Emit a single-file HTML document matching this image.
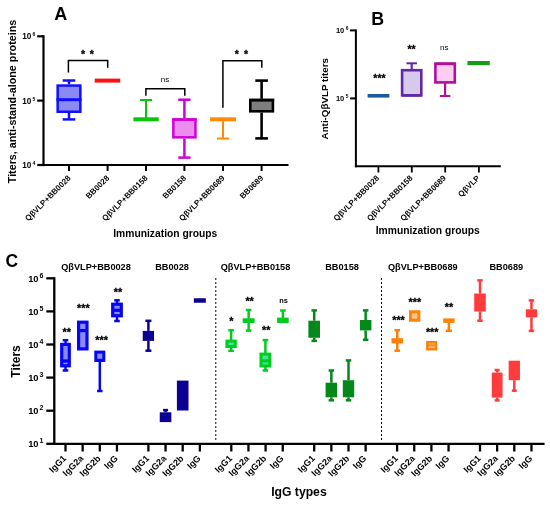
<!DOCTYPE html>
<html><head><meta charset="utf-8"><style>
html,body{margin:0;padding:0;background:#fff;}
svg{display:block;font-family:"Liberation Sans", sans-serif;will-change:transform;}
</style></head><body>
<svg width="550" height="506" viewBox="0 0 550 506">
<rect width="550" height="506" fill="#fff"/>
<text x="60.8" y="20.2" font-size="18" text-anchor="middle" font-weight="bold" fill="#000" >A</text>
<line x1="43.5" y1="35.2" x2="43.5" y2="166.1" stroke="#000" stroke-width="2.2" />
<line x1="42.4" y1="165" x2="288.5" y2="165" stroke="#000" stroke-width="2.2" />
<line x1="37.2" y1="36.3" x2="43.5" y2="36.3" stroke="#000" stroke-width="2.2" />
<text x="31.3" y="39.3" font-size="8.2" text-anchor="end" font-weight="bold">10</text>
<text x="32.5" y="36.4" font-size="5.0" text-anchor="start" font-weight="bold">6</text>
<line x1="37.2" y1="100.6" x2="43.5" y2="100.6" stroke="#000" stroke-width="2.2" />
<text x="31.3" y="103.6" font-size="8.2" text-anchor="end" font-weight="bold">10</text>
<text x="32.5" y="100.7" font-size="5.0" text-anchor="start" font-weight="bold">5</text>
<line x1="37.2" y1="165" x2="43.5" y2="165" stroke="#000" stroke-width="2.2" />
<text x="31.3" y="168.0" font-size="8.2" text-anchor="end" font-weight="bold">10</text>
<text x="32.5" y="165.1" font-size="5.0" text-anchor="start" font-weight="bold">4</text>
<line x1="69" y1="165" x2="69" y2="171" stroke="#000" stroke-width="2" />
<line x1="107.6" y1="165" x2="107.6" y2="171" stroke="#000" stroke-width="2" />
<line x1="146" y1="165" x2="146" y2="171" stroke="#000" stroke-width="2" />
<line x1="184.4" y1="165" x2="184.4" y2="171" stroke="#000" stroke-width="2" />
<line x1="223" y1="165" x2="223" y2="171" stroke="#000" stroke-width="2" />
<line x1="261.6" y1="165" x2="261.6" y2="171" stroke="#000" stroke-width="2" />
<text transform="translate(71.2,178.6) rotate(-45)" font-size="8" text-anchor="end" font-weight="bold">QβVLP+BB0028</text>
<text transform="translate(109.8,178.6) rotate(-45)" font-size="8" text-anchor="end" font-weight="bold">BB0028</text>
<text transform="translate(148.2,178.6) rotate(-45)" font-size="8" text-anchor="end" font-weight="bold">QβVLP+BB0158</text>
<text transform="translate(186.6,178.6) rotate(-45)" font-size="8" text-anchor="end" font-weight="bold">BB0158</text>
<text transform="translate(225.2,178.6) rotate(-45)" font-size="8" text-anchor="end" font-weight="bold">QβVLP+BB0689</text>
<text transform="translate(263.8,178.6) rotate(-45)" font-size="8" text-anchor="end" font-weight="bold">BB0689</text>
<text x="165.3" y="237" font-size="10.3" text-anchor="middle" font-weight="bold" fill="#000" >Immunization groups</text>
<text transform="translate(15.7,101.5) rotate(-90)" font-size="10.75" text-anchor="middle" font-weight="bold">Titers, anti-stand-alone proteins</text>
<line x1="69" y1="80.5" x2="69" y2="84.3" stroke="#1010ff" stroke-width="2.5" />
<line x1="62.7" y1="80.5" x2="75.3" y2="80.5" stroke="#1010ff" stroke-width="2.5" />
<line x1="69" y1="113" x2="69" y2="119.4" stroke="#1010ff" stroke-width="2.5" />
<line x1="62.7" y1="119.4" x2="75.3" y2="119.4" stroke="#1010ff" stroke-width="2.5" />
<rect x="57.65" y="85.55" width="22.7" height="26.2" fill="#8a8af2" stroke="#1010ff" stroke-width="2.5"/>
<line x1="56.4" y1="99.7" x2="81.6" y2="99.7" stroke="#1010ff" stroke-width="3" />
<line x1="94.7" y1="80.6" x2="120.2" y2="80.6" stroke="#ff1010" stroke-width="4" />
<line x1="146" y1="100" x2="146" y2="119.3" stroke="#0ac40a" stroke-width="2" />
<line x1="140" y1="100" x2="152" y2="100" stroke="#0ac40a" stroke-width="2" />
<line x1="133.4" y1="119.3" x2="158.7" y2="119.3" stroke="#0ac40a" stroke-width="4" />
<line x1="184.4" y1="99.7" x2="184.4" y2="118.2" stroke="#d000d8" stroke-width="2.5" />
<line x1="178.25" y1="99.7" x2="190.55" y2="99.7" stroke="#d000d8" stroke-width="2.5" />
<line x1="184.4" y1="138.6" x2="184.4" y2="157.6" stroke="#d000d8" stroke-width="2.5" />
<line x1="178.25" y1="157.6" x2="190.55" y2="157.6" stroke="#d000d8" stroke-width="2.5" />
<rect x="173.35" y="119.45" width="22.1" height="17.9" fill="#ec8cee" stroke="#d000d8" stroke-width="2.5"/>
<line x1="172.1" y1="119.6" x2="196.7" y2="119.6" stroke="#d000d8" stroke-width="2.5" />
<line x1="223" y1="119.3" x2="223" y2="138.5" stroke="#ff8c00" stroke-width="2" />
<line x1="217" y1="138.5" x2="229.2" y2="138.5" stroke="#ff8c00" stroke-width="2" />
<line x1="210" y1="119.3" x2="236" y2="119.3" stroke="#ff8c00" stroke-width="4" />
<line x1="261.6" y1="80.6" x2="261.6" y2="98.8" stroke="#000" stroke-width="2.6" />
<line x1="255.3" y1="80.6" x2="267.9" y2="80.6" stroke="#000" stroke-width="2.6" />
<line x1="261.6" y1="112.6" x2="261.6" y2="138.4" stroke="#000" stroke-width="2.6" />
<line x1="255.3" y1="138.4" x2="267.9" y2="138.4" stroke="#000" stroke-width="2.6" />
<rect x="250.3" y="100.1" width="22.6" height="11.2" fill="#7e7e7e" stroke="#000" stroke-width="2.6"/>
<line x1="249" y1="100" x2="274.2" y2="100" stroke="#000" stroke-width="2.6" />
<polyline points="68.4,72.4 68.4,60.5 107.7,60.5 107.7,67.8" fill="none" stroke="#000" stroke-width="1.5"/>
<polyline points="145.9,95.7 145.9,88.8 184.8,88.8 184.8,95.7" fill="none" stroke="#000" stroke-width="1.5"/>
<polyline points="222.9,107.8 222.9,60.7 261.8,60.7 261.8,67.8" fill="none" stroke="#000" stroke-width="1.5"/>
<text x="83.1" y="57.65" font-size="10.5" text-anchor="middle" font-weight="bold" stroke="#000" stroke-width="0.3">*</text>
<text x="91.7" y="57.65" font-size="10.5" text-anchor="middle" font-weight="bold" stroke="#000" stroke-width="0.3">*</text>
<text x="236.7" y="58.05" font-size="10.5" text-anchor="middle" font-weight="bold" stroke="#000" stroke-width="0.3">*</text>
<text x="246.0" y="58.05" font-size="10.5" text-anchor="middle" font-weight="bold" stroke="#000" stroke-width="0.3">*</text>
<text x="165.1" y="82.18" font-size="8" text-anchor="middle" font-weight="normal">ns</text>
<text x="377.6" y="24.6" font-size="17.8" text-anchor="middle" font-weight="bold" fill="#000" >B</text>
<line x1="355.9" y1="29.4" x2="355.9" y2="167.3" stroke="#000" stroke-width="2" />
<line x1="354.9" y1="166.3" x2="500.8" y2="166.3" stroke="#000" stroke-width="2" />
<line x1="350" y1="30.4" x2="355.9" y2="30.4" stroke="#000" stroke-width="2" />
<text x="344.3" y="33.2" font-size="7.5" text-anchor="end" font-weight="bold">10</text>
<text x="345.8" y="30.2" font-size="4.8" text-anchor="start" font-weight="bold">6</text>
<line x1="350" y1="98.4" x2="355.9" y2="98.4" stroke="#000" stroke-width="2" />
<text x="344.3" y="101.2" font-size="7.5" text-anchor="end" font-weight="bold">10</text>
<text x="345.8" y="98.2" font-size="4.8" text-anchor="start" font-weight="bold">5</text>
<line x1="378.4" y1="166.3" x2="378.4" y2="172.5" stroke="#000" stroke-width="1.8" />
<line x1="411.8" y1="166.3" x2="411.8" y2="172.5" stroke="#000" stroke-width="1.8" />
<line x1="445.2" y1="166.3" x2="445.2" y2="172.5" stroke="#000" stroke-width="1.8" />
<line x1="478.9" y1="166.3" x2="478.9" y2="172.5" stroke="#000" stroke-width="1.8" />
<text transform="translate(379.7,178.6) rotate(-45)" font-size="8" text-anchor="end" font-weight="bold">QβVLP+BB0028</text>
<text transform="translate(413.1,178.6) rotate(-45)" font-size="8" text-anchor="end" font-weight="bold">QβVLP+BB0158</text>
<text transform="translate(446.5,178.6) rotate(-45)" font-size="8" text-anchor="end" font-weight="bold">QβVLP+BB0689</text>
<text transform="translate(480.2,178.6) rotate(-45)" font-size="8" text-anchor="end" font-weight="bold">QβVLP</text>
<text x="427.8" y="234" font-size="10.3" text-anchor="middle" font-weight="bold" fill="#000" >Immunization groups</text>
<text transform="translate(328,98.7) rotate(-90)" font-size="9.8" text-anchor="middle" font-weight="bold">Anti-QβVLP titers</text>
<line x1="367.6" y1="95.8" x2="389.4" y2="95.8" stroke="#1a5aa5" stroke-width="3.6" />
<text x="379.5" y="82.05" font-size="10.5" text-anchor="middle" font-weight="bold" stroke="#000" stroke-width="0.3">***</text>
<line x1="411.7" y1="63.3" x2="411.7" y2="69.4" stroke="#6228a4" stroke-width="2.2" />
<line x1="406.45" y1="63.3" x2="416.95" y2="63.3" stroke="#6228a4" stroke-width="2.0" />
<rect x="402.1" y="70.2" width="19.2" height="25.2" fill="#d6c9ec" stroke="#6228a4" stroke-width="2.6"/>
<line x1="402.1" y1="95.3" x2="421.3" y2="95.3" stroke="#6228a4" stroke-width="2.6" />
<text x="411.6" y="52.85" font-size="10.5" text-anchor="middle" font-weight="bold" stroke="#000" stroke-width="0.3">**</text>
<line x1="445.1" y1="83.2" x2="445.1" y2="96.0" stroke="#b01096" stroke-width="2.2" />
<line x1="439.85" y1="96.0" x2="450.35" y2="96.0" stroke="#b01096" stroke-width="2.0" />
<rect x="435.4" y="63.6" width="19.4" height="18.8" fill="#ffccf2" stroke="#b01096" stroke-width="2.6"/>
<line x1="435.4" y1="63.9" x2="454.8" y2="63.9" stroke="#b01096" stroke-width="2.6" />
<text x="444.3" y="49.78" font-size="8" text-anchor="middle" font-weight="normal">ns</text>
<line x1="467.4" y1="63.1" x2="489.8" y2="63.1" stroke="#1a9a1a" stroke-width="4.2" />
<text x="11.8" y="266.5" font-size="17.5" text-anchor="middle" font-weight="bold" fill="#000" >C</text>
<line x1="54.3" y1="277.2" x2="54.3" y2="444.9" stroke="#000" stroke-width="2.3" />
<line x1="53.2" y1="443.8" x2="544.6" y2="443.8" stroke="#000" stroke-width="2.3" />
<line x1="46.3" y1="443.8" x2="54.3" y2="443.8" stroke="#000" stroke-width="2.3" />
<text x="38.6" y="447.0" font-size="9.4" text-anchor="end" font-weight="bold">10</text>
<text x="39.4" y="443.1" font-size="7.0" text-anchor="start" font-weight="bold">1</text>
<line x1="46.3" y1="410.7" x2="54.3" y2="410.7" stroke="#000" stroke-width="2.3" />
<text x="38.6" y="413.9" font-size="9.4" text-anchor="end" font-weight="bold">10</text>
<text x="39.4" y="410.0" font-size="7.0" text-anchor="start" font-weight="bold">2</text>
<line x1="46.3" y1="377.6" x2="54.3" y2="377.6" stroke="#000" stroke-width="2.3" />
<text x="38.6" y="380.8" font-size="9.4" text-anchor="end" font-weight="bold">10</text>
<text x="39.4" y="376.9" font-size="7.0" text-anchor="start" font-weight="bold">3</text>
<line x1="46.3" y1="344.5" x2="54.3" y2="344.5" stroke="#000" stroke-width="2.3" />
<text x="38.6" y="347.7" font-size="9.4" text-anchor="end" font-weight="bold">10</text>
<text x="39.4" y="343.8" font-size="7.0" text-anchor="start" font-weight="bold">4</text>
<line x1="46.3" y1="311.4" x2="54.3" y2="311.4" stroke="#000" stroke-width="2.3" />
<text x="38.6" y="314.6" font-size="9.4" text-anchor="end" font-weight="bold">10</text>
<text x="39.4" y="310.7" font-size="7.0" text-anchor="start" font-weight="bold">5</text>
<line x1="46.3" y1="278.3" x2="54.3" y2="278.3" stroke="#000" stroke-width="2.3" />
<text x="38.6" y="281.5" font-size="9.4" text-anchor="end" font-weight="bold">10</text>
<text x="39.4" y="277.6" font-size="7.0" text-anchor="start" font-weight="bold">6</text>
<text transform="translate(20,361.5) rotate(-90)" font-size="12" text-anchor="middle" font-weight="bold">Titers</text>
<text x="298.9" y="495.5" font-size="12.2" text-anchor="middle" font-weight="bold" fill="#000" >IgG types</text>
<line x1="65.5" y1="443.8" x2="65.5" y2="451.5" stroke="#000" stroke-width="2.3" />
<text transform="translate(66.9,459.0) rotate(-45)" font-size="9" text-anchor="end" font-weight="bold">IgG1</text>
<line x1="82.65" y1="443.8" x2="82.65" y2="451.5" stroke="#000" stroke-width="2.3" />
<text transform="translate(84.05,459.0) rotate(-45)" font-size="9" text-anchor="end" font-weight="bold">IgG2a</text>
<line x1="99.8" y1="443.8" x2="99.8" y2="451.5" stroke="#000" stroke-width="2.3" />
<text transform="translate(101.2,459.0) rotate(-45)" font-size="9" text-anchor="end" font-weight="bold">IgG2b</text>
<line x1="116.95" y1="443.8" x2="116.95" y2="451.5" stroke="#000" stroke-width="2.3" />
<text transform="translate(118.35,459.0) rotate(-45)" font-size="9" text-anchor="end" font-weight="bold">IgG</text>
<line x1="148.4" y1="443.8" x2="148.4" y2="451.5" stroke="#000" stroke-width="2.3" />
<text transform="translate(149.8,459.0) rotate(-45)" font-size="9" text-anchor="end" font-weight="bold">IgG1</text>
<line x1="165.55" y1="443.8" x2="165.55" y2="451.5" stroke="#000" stroke-width="2.3" />
<text transform="translate(166.95,459.0) rotate(-45)" font-size="9" text-anchor="end" font-weight="bold">IgG2a</text>
<line x1="182.7" y1="443.8" x2="182.7" y2="451.5" stroke="#000" stroke-width="2.3" />
<text transform="translate(184.1,459.0) rotate(-45)" font-size="9" text-anchor="end" font-weight="bold">IgG2b</text>
<line x1="199.85" y1="443.8" x2="199.85" y2="451.5" stroke="#000" stroke-width="2.3" />
<text transform="translate(201.25,459.0) rotate(-45)" font-size="9" text-anchor="end" font-weight="bold">IgG</text>
<line x1="231.3" y1="443.8" x2="231.3" y2="451.5" stroke="#000" stroke-width="2.3" />
<text transform="translate(232.7,459.0) rotate(-45)" font-size="9" text-anchor="end" font-weight="bold">IgG1</text>
<line x1="248.45" y1="443.8" x2="248.45" y2="451.5" stroke="#000" stroke-width="2.3" />
<text transform="translate(249.85,459.0) rotate(-45)" font-size="9" text-anchor="end" font-weight="bold">IgG2a</text>
<line x1="265.6" y1="443.8" x2="265.6" y2="451.5" stroke="#000" stroke-width="2.3" />
<text transform="translate(267.0,459.0) rotate(-45)" font-size="9" text-anchor="end" font-weight="bold">IgG2b</text>
<line x1="282.75" y1="443.8" x2="282.75" y2="451.5" stroke="#000" stroke-width="2.3" />
<text transform="translate(284.15,459.0) rotate(-45)" font-size="9" text-anchor="end" font-weight="bold">IgG</text>
<line x1="314.2" y1="443.8" x2="314.2" y2="451.5" stroke="#000" stroke-width="2.3" />
<text transform="translate(315.6,459.0) rotate(-45)" font-size="9" text-anchor="end" font-weight="bold">IgG1</text>
<line x1="331.35" y1="443.8" x2="331.35" y2="451.5" stroke="#000" stroke-width="2.3" />
<text transform="translate(332.75,459.0) rotate(-45)" font-size="9" text-anchor="end" font-weight="bold">IgG2a</text>
<line x1="348.5" y1="443.8" x2="348.5" y2="451.5" stroke="#000" stroke-width="2.3" />
<text transform="translate(349.9,459.0) rotate(-45)" font-size="9" text-anchor="end" font-weight="bold">IgG2b</text>
<line x1="365.65" y1="443.8" x2="365.65" y2="451.5" stroke="#000" stroke-width="2.3" />
<text transform="translate(367.05,459.0) rotate(-45)" font-size="9" text-anchor="end" font-weight="bold">IgG</text>
<line x1="397.1" y1="443.8" x2="397.1" y2="451.5" stroke="#000" stroke-width="2.3" />
<text transform="translate(398.5,459.0) rotate(-45)" font-size="9" text-anchor="end" font-weight="bold">IgG1</text>
<line x1="414.25" y1="443.8" x2="414.25" y2="451.5" stroke="#000" stroke-width="2.3" />
<text transform="translate(415.65,459.0) rotate(-45)" font-size="9" text-anchor="end" font-weight="bold">IgG2a</text>
<line x1="431.4" y1="443.8" x2="431.4" y2="451.5" stroke="#000" stroke-width="2.3" />
<text transform="translate(432.8,459.0) rotate(-45)" font-size="9" text-anchor="end" font-weight="bold">IgG2b</text>
<line x1="448.55" y1="443.8" x2="448.55" y2="451.5" stroke="#000" stroke-width="2.3" />
<text transform="translate(449.95,459.0) rotate(-45)" font-size="9" text-anchor="end" font-weight="bold">IgG</text>
<line x1="480.0" y1="443.8" x2="480.0" y2="451.5" stroke="#000" stroke-width="2.3" />
<text transform="translate(481.4,459.0) rotate(-45)" font-size="9" text-anchor="end" font-weight="bold">IgG1</text>
<line x1="497.15" y1="443.8" x2="497.15" y2="451.5" stroke="#000" stroke-width="2.3" />
<text transform="translate(498.55,459.0) rotate(-45)" font-size="9" text-anchor="end" font-weight="bold">IgG2a</text>
<line x1="514.3" y1="443.8" x2="514.3" y2="451.5" stroke="#000" stroke-width="2.3" />
<text transform="translate(515.7,459.0) rotate(-45)" font-size="9" text-anchor="end" font-weight="bold">IgG2b</text>
<line x1="531.45" y1="443.8" x2="531.45" y2="451.5" stroke="#000" stroke-width="2.3" />
<text transform="translate(532.85,459.0) rotate(-45)" font-size="9" text-anchor="end" font-weight="bold">IgG</text>
<line x1="215.8" y1="278" x2="215.8" y2="442" stroke="#000" stroke-width="1" stroke-dasharray="2,2"/>
<line x1="381.5" y1="278" x2="381.5" y2="442" stroke="#000" stroke-width="1" stroke-dasharray="2,2"/>
<text x="96" y="270.3" font-size="9.2" text-anchor="middle" font-weight="bold" fill="#000" >QβVLP+BB0028</text>
<text x="172" y="270.3" font-size="9.2" text-anchor="middle" font-weight="bold" fill="#000" >BB0028</text>
<text x="255.5" y="270.3" font-size="9.2" text-anchor="middle" font-weight="bold" fill="#000" >QβVLP+BB0158</text>
<text x="342" y="270.3" font-size="9.2" text-anchor="middle" font-weight="bold" fill="#000" >BB0158</text>
<text x="422.8" y="270.3" font-size="9.2" text-anchor="middle" font-weight="bold" fill="#000" >QβVLP+BB0689</text>
<text x="506.3" y="270.3" font-size="9.2" text-anchor="middle" font-weight="bold" fill="#000" >BB0689</text>
<line x1="65.5" y1="340.2" x2="65.5" y2="343.3" stroke="#0606f4" stroke-width="2.5" />
<line x1="62.7" y1="340.2" x2="68.3" y2="340.2" stroke="#0606f4" stroke-width="2.5" />
<line x1="65.5" y1="366.9" x2="65.5" y2="370.5" stroke="#0606f4" stroke-width="2.5" />
<line x1="62.7" y1="370.5" x2="68.3" y2="370.5" stroke="#0606f4" stroke-width="2.5" />
<rect x="61.7" y="344.4" width="7.6" height="21.4" fill="#8a8af8" stroke="#0606f4" stroke-width="3.2"/>
<line x1="61.7" y1="361" x2="69.3" y2="361" stroke="#0606f4" stroke-width="3.2" />
<rect x="78.6" y="322.2" width="8.4" height="26.7" fill="#8a8af8" stroke="#0606f4" stroke-width="3.2"/>
<line x1="78.6" y1="330.6" x2="87.0" y2="330.6" stroke="#0606f4" stroke-width="3.2" />
<line x1="99.8" y1="361.4" x2="99.8" y2="391" stroke="#0606f4" stroke-width="2.5" />
<line x1="97.05" y1="391" x2="102.55" y2="391" stroke="#0606f4" stroke-width="2.5" />
<rect x="95.8" y="352.1" width="8.0" height="8.3" fill="#8a8af8" stroke="#0606f4" stroke-width="3.0"/>
<line x1="95.8" y1="360.4" x2="103.8" y2="360.4" stroke="#0606f4" stroke-width="3.0" />
<line x1="117.0" y1="300.3" x2="117.0" y2="303.1" stroke="#0606f4" stroke-width="2.5" />
<line x1="114.2" y1="300.3" x2="119.8" y2="300.3" stroke="#0606f4" stroke-width="2.5" />
<line x1="117.0" y1="316.9" x2="117.0" y2="321.0" stroke="#0606f4" stroke-width="2.5" />
<line x1="114.2" y1="321.0" x2="119.8" y2="321.0" stroke="#0606f4" stroke-width="2.5" />
<rect x="112.7" y="304.2" width="8.6" height="11.6" fill="#8a8af8" stroke="#0606f4" stroke-width="3.2"/>
<line x1="112.7" y1="310.3" x2="121.3" y2="310.3" stroke="#0606f4" stroke-width="3.2" />
<text x="66.8" y="335.60" font-size="10.8" text-anchor="middle" font-weight="bold" stroke="#000" stroke-width="0.3">**</text>
<text x="83.4" y="312.20" font-size="10.8" text-anchor="middle" font-weight="bold" stroke="#000" stroke-width="0.3">***</text>
<text x="101.6" y="343.90" font-size="10.8" text-anchor="middle" font-weight="bold" stroke="#000" stroke-width="0.3">***</text>
<text x="118" y="295.60" font-size="10.8" text-anchor="middle" font-weight="bold" stroke="#000" stroke-width="0.3">**</text>
<line x1="148.4" y1="320.8" x2="148.4" y2="330.9" stroke="#0c0094" stroke-width="2.5" />
<line x1="145.4" y1="320.8" x2="151.4" y2="320.8" stroke="#0c0094" stroke-width="2.5" />
<line x1="148.4" y1="340.9" x2="148.4" y2="350.7" stroke="#0c0094" stroke-width="2.5" />
<line x1="145.4" y1="350.7" x2="151.4" y2="350.7" stroke="#0c0094" stroke-width="2.5" />
<rect x="144.0" y="332.15" width="8.8" height="7.5" fill="#0c0094" stroke="#0c0094" stroke-width="2.5"/>
<line x1="165.55" y1="410.1" x2="165.55" y2="412.3" stroke="#0c0094" stroke-width="2.5" />
<line x1="163.05" y1="410.1" x2="168.05" y2="410.1" stroke="#0c0094" stroke-width="2.5" />
<rect x="161.0" y="413.55" width="9.1" height="7.3" fill="#0c0094" stroke="#0c0094" stroke-width="2.5"/>
<rect x="178.15" y="381.85" width="9.1" height="27.4" fill="#0c0094" stroke="#0c0094" stroke-width="2.5"/>
<line x1="193.85" y1="300.5" x2="205.85" y2="300.5" stroke="#0c0094" stroke-width="4.5" />
<line x1="231.1" y1="330.2" x2="231.1" y2="340.1" stroke="#02cc1e" stroke-width="2.5" />
<line x1="228.3" y1="330.2" x2="233.9" y2="330.2" stroke="#02cc1e" stroke-width="2.5" />
<line x1="231.1" y1="347.5" x2="231.1" y2="350.8" stroke="#02cc1e" stroke-width="2.5" />
<line x1="228.3" y1="350.8" x2="233.9" y2="350.8" stroke="#02cc1e" stroke-width="2.5" />
<rect x="226.9" y="341.1" width="8.4" height="5.4" fill="#44e49c" stroke="#02cc1e" stroke-width="3.0"/>
<line x1="248.65" y1="310.0" x2="248.65" y2="318.8" stroke="#02cc1e" stroke-width="2.5" />
<line x1="245.85" y1="310.0" x2="251.45" y2="310.0" stroke="#02cc1e" stroke-width="2.5" />
<line x1="248.65" y1="322.5" x2="248.65" y2="330.6" stroke="#02cc1e" stroke-width="2.5" />
<line x1="245.85" y1="330.6" x2="251.45" y2="330.6" stroke="#02cc1e" stroke-width="2.5" />
<rect x="244.1" y="319.7" width="9.1" height="1.9" fill="#02cc1e" stroke="#02cc1e" stroke-width="2.8"/>
<line x1="265.4" y1="340.1" x2="265.4" y2="353.1" stroke="#02cc1e" stroke-width="2.5" />
<line x1="262.6" y1="340.1" x2="268.2" y2="340.1" stroke="#02cc1e" stroke-width="2.5" />
<line x1="265.4" y1="367.0" x2="265.4" y2="370.5" stroke="#02cc1e" stroke-width="2.5" />
<line x1="262.6" y1="370.5" x2="268.2" y2="370.5" stroke="#02cc1e" stroke-width="2.5" />
<rect x="261.0" y="354.1" width="8.8" height="11.9" fill="#44e49c" stroke="#02cc1e" stroke-width="3.0"/>
<line x1="261.0" y1="360.9" x2="269.8" y2="360.9" stroke="#02cc1e" stroke-width="3.2" />
<line x1="282.9" y1="310.5" x2="282.9" y2="318.1" stroke="#02cc1e" stroke-width="2.5" />
<line x1="280.1" y1="310.5" x2="285.7" y2="310.5" stroke="#02cc1e" stroke-width="2.5" />
<rect x="278.5" y="319.0" width="8.8" height="2.6" fill="#02cc1e" stroke="#02cc1e" stroke-width="2.8"/>
<text x="231.3" y="325.40" font-size="10.8" text-anchor="middle" font-weight="bold" stroke="#000" stroke-width="0.3">*</text>
<text x="249.6" y="304.50" font-size="10.8" text-anchor="middle" font-weight="bold" stroke="#000" stroke-width="0.3">**</text>
<text x="266.2" y="334.40" font-size="10.8" text-anchor="middle" font-weight="bold" stroke="#000" stroke-width="0.3">**</text>
<text x="283.5" y="302.92" font-size="7.4" text-anchor="middle" font-weight="bold">ns</text>
<line x1="314.2" y1="310.4" x2="314.2" y2="320.7" stroke="#04881a" stroke-width="2.5" />
<line x1="311.45" y1="310.4" x2="316.95" y2="310.4" stroke="#04881a" stroke-width="2.5" />
<line x1="314.2" y1="337.8" x2="314.2" y2="340.9" stroke="#04881a" stroke-width="2.5" />
<line x1="311.45" y1="340.9" x2="316.95" y2="340.9" stroke="#04881a" stroke-width="2.5" />
<rect x="309.65" y="321.95" width="9.1" height="14.6" fill="#04881a" stroke="#04881a" stroke-width="2.5"/>
<line x1="331.35" y1="370.5" x2="331.35" y2="382.7" stroke="#04881a" stroke-width="2.5" />
<line x1="328.6" y1="370.5" x2="334.1" y2="370.5" stroke="#04881a" stroke-width="2.5" />
<line x1="331.35" y1="397.3" x2="331.35" y2="400.3" stroke="#04881a" stroke-width="2.5" />
<line x1="328.6" y1="400.3" x2="334.1" y2="400.3" stroke="#04881a" stroke-width="2.5" />
<rect x="326.85" y="383.95" width="9.0" height="12.1" fill="#04881a" stroke="#04881a" stroke-width="2.5"/>
<line x1="348.5" y1="360.4" x2="348.5" y2="380.2" stroke="#04881a" stroke-width="2.5" />
<line x1="345.75" y1="360.4" x2="351.25" y2="360.4" stroke="#04881a" stroke-width="2.5" />
<line x1="348.5" y1="397.3" x2="348.5" y2="400.3" stroke="#04881a" stroke-width="2.5" />
<line x1="345.75" y1="400.3" x2="351.25" y2="400.3" stroke="#04881a" stroke-width="2.5" />
<rect x="344.05" y="381.45" width="8.9" height="14.6" fill="#04881a" stroke="#04881a" stroke-width="2.5"/>
<line x1="365.65" y1="310.4" x2="365.65" y2="320" stroke="#04881a" stroke-width="2.5" />
<line x1="362.9" y1="310.4" x2="368.4" y2="310.4" stroke="#04881a" stroke-width="2.5" />
<line x1="365.65" y1="330.4" x2="365.65" y2="339.8" stroke="#04881a" stroke-width="2.5" />
<line x1="362.9" y1="339.8" x2="368.4" y2="339.8" stroke="#04881a" stroke-width="2.5" />
<rect x="361.15" y="321.25" width="9.0" height="7.9" fill="#04881a" stroke="#04881a" stroke-width="2.5"/>
<line x1="397.25" y1="330.2" x2="397.25" y2="338.7" stroke="#ff8002" stroke-width="2.5" />
<line x1="394.45" y1="330.2" x2="400.05" y2="330.2" stroke="#ff8002" stroke-width="2.5" />
<line x1="397.25" y1="342.9" x2="397.25" y2="350.7" stroke="#ff8002" stroke-width="2.5" />
<line x1="394.45" y1="350.7" x2="400.05" y2="350.7" stroke="#ff8002" stroke-width="2.5" />
<rect x="392.9" y="339.6" width="8.7" height="2.4" fill="#ff8002" stroke="#ff8002" stroke-width="2.8"/>
<rect x="410.5" y="311.8" width="8.3" height="8.4" fill="#ffc890" stroke="#ff8002" stroke-width="3.0"/>
<line x1="410.5" y1="315.9" x2="418.8" y2="315.9" stroke="#ffb070" stroke-width="0.8" />
<rect x="427.3" y="342.2" width="8.7" height="7.1" fill="#ffc890" stroke="#ff8002" stroke-width="2.4"/>
<line x1="427.3" y1="345.4" x2="436.0" y2="345.4" stroke="#ff8002" stroke-width="1.8" />
<line x1="448.9" y1="322.4" x2="448.9" y2="330.8" stroke="#ff8002" stroke-width="2.5" />
<line x1="445.8" y1="330.8" x2="452.0" y2="330.8" stroke="#ff8002" stroke-width="2.5" />
<rect x="444.6" y="319.8" width="8.6" height="1.7" fill="#ff8002" stroke="#ff8002" stroke-width="2.8"/>
<text x="398.5" y="323.90" font-size="10.8" text-anchor="middle" font-weight="bold" stroke="#000" stroke-width="0.3">***</text>
<text x="414.8" y="306.10" font-size="10.8" text-anchor="middle" font-weight="bold" stroke="#000" stroke-width="0.3">***</text>
<text x="432.2" y="335.80" font-size="10.8" text-anchor="middle" font-weight="bold" stroke="#000" stroke-width="0.3">***</text>
<text x="448.9" y="310.80" font-size="10.8" text-anchor="middle" font-weight="bold" stroke="#000" stroke-width="0.3">**</text>
<line x1="480.0" y1="280.4" x2="480.0" y2="293.5" stroke="#ff3c3c" stroke-width="2.5" />
<line x1="477.25" y1="280.4" x2="482.75" y2="280.4" stroke="#ff3c3c" stroke-width="2.5" />
<line x1="480.0" y1="311.5" x2="480.0" y2="320.7" stroke="#ff3c3c" stroke-width="2.5" />
<line x1="477.25" y1="320.7" x2="482.75" y2="320.7" stroke="#ff3c3c" stroke-width="2.5" />
<rect x="475.45" y="294.75" width="9.1" height="15.5" fill="#ff3c3c" stroke="#ff3c3c" stroke-width="2.5"/>
<line x1="497.15" y1="370" x2="497.15" y2="372.6" stroke="#ff3c3c" stroke-width="2.5" />
<line x1="494.65" y1="370" x2="499.65" y2="370" stroke="#ff3c3c" stroke-width="2.5" />
<line x1="497.15" y1="397.6" x2="497.15" y2="400.4" stroke="#ff3c3c" stroke-width="2.5" />
<line x1="494.65" y1="400.4" x2="499.65" y2="400.4" stroke="#ff3c3c" stroke-width="2.5" />
<rect x="493.0" y="373.85" width="8.3" height="22.5" fill="#ff3c3c" stroke="#ff3c3c" stroke-width="2.5"/>
<line x1="514.3" y1="380.2" x2="514.3" y2="390.7" stroke="#ff3c3c" stroke-width="2.5" />
<line x1="511.8" y1="390.7" x2="516.8" y2="390.7" stroke="#ff3c3c" stroke-width="2.5" />
<rect x="509.9" y="361.95" width="8.8" height="17.0" fill="#ff3c3c" stroke="#ff3c3c" stroke-width="2.5"/>
<line x1="531.45" y1="300.4" x2="531.45" y2="309.3" stroke="#ff3c3c" stroke-width="2.5" />
<line x1="528.7" y1="300.4" x2="534.2" y2="300.4" stroke="#ff3c3c" stroke-width="2.5" />
<line x1="531.45" y1="317.4" x2="531.45" y2="330.9" stroke="#ff3c3c" stroke-width="2.5" />
<line x1="528.7" y1="330.9" x2="534.2" y2="330.9" stroke="#ff3c3c" stroke-width="2.5" />
<rect x="527.05" y="310.55" width="8.8" height="5.6" fill="#ff3c3c" stroke="#ff3c3c" stroke-width="2.5"/>
</svg>
</body></html>
